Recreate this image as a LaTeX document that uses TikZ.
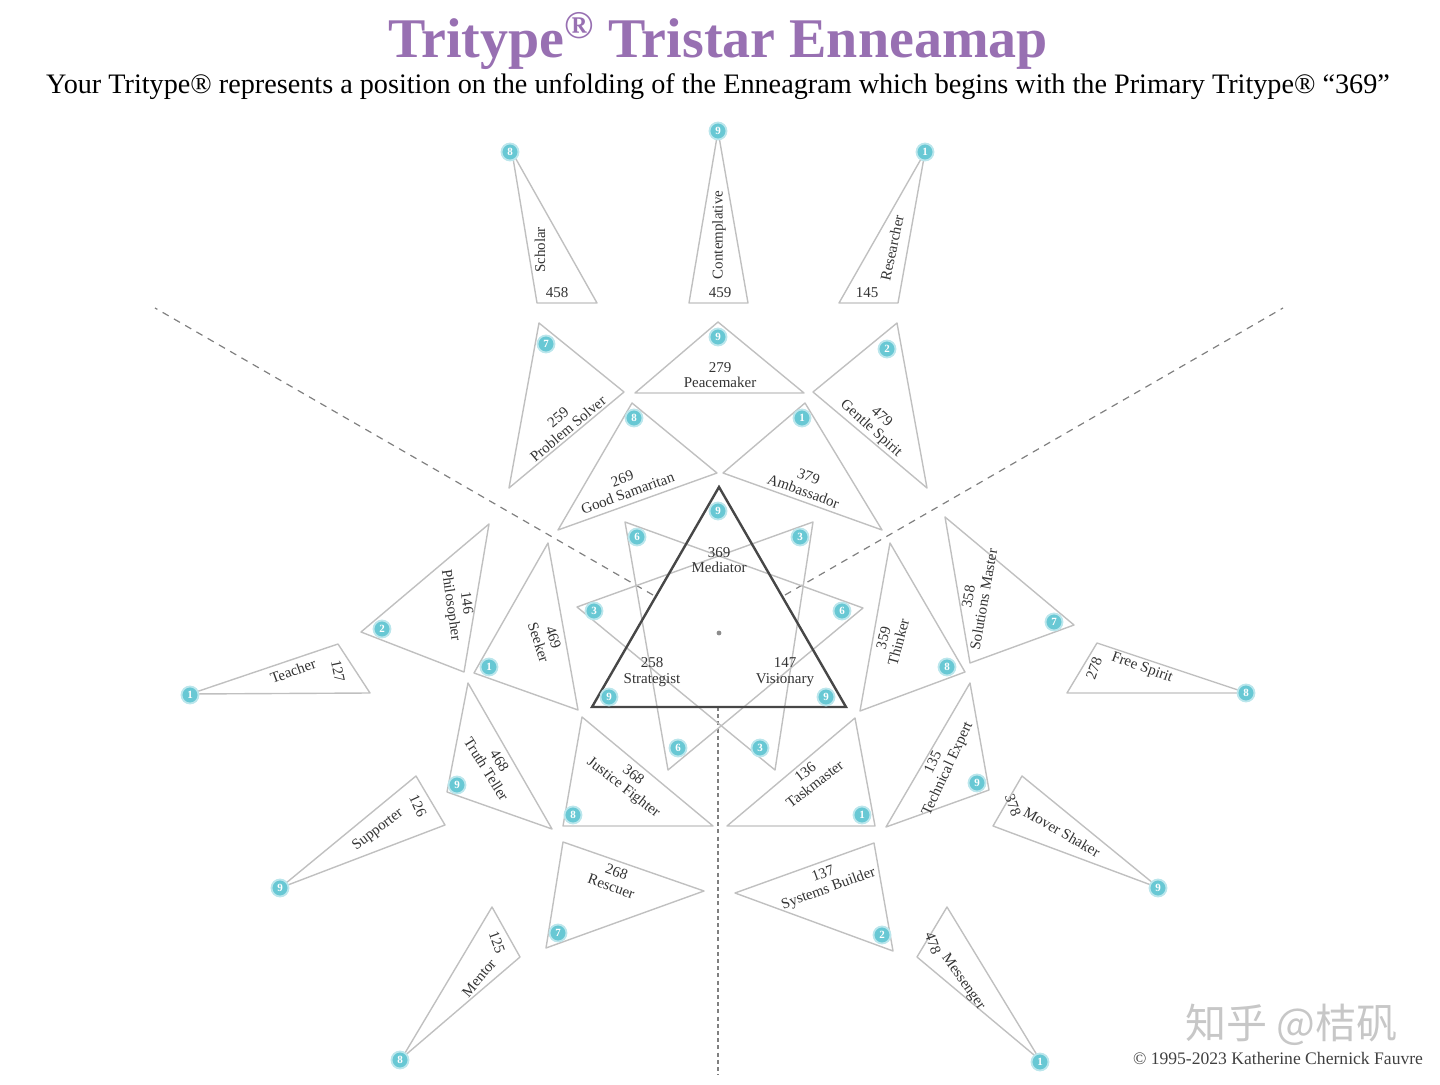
\documentclass[tikz,border=0pt]{standalone}
\usepackage{fontspec}
\setmainfont{Liberation Serif}
\newfontfamily\cjkfont{Noto Sans CJK SC}

\definecolor{enneapurple}{RGB}{152,112,178}
\definecolor{badgecyan}{RGB}{104,200,212}
\definecolor{triline}{RGB}{192,192,192}

\begin{document}
\begin{tikzpicture}[x=0.5pt, y=-0.5pt,
    tri/.style={draw=triline, line width=0.7pt, line join=round},
    core/.style={draw=black!72, line width=1.2pt, line join=miter},
    axis/.style={draw=black!50, line width=0.6pt, dash pattern=on 3.5pt off 3pt},
    badge/.style={circle, fill=badgecyan, draw=badgecyan!45, line width=0.9pt, inner sep=0pt,
                  minimum size=8.5pt, text=white, font=\fontsize{5.5}{5.5}\selectfont\bfseries},
    tname/.style={align=center, inner sep=0pt, text=black!80, font=\fontsize{7.5}{7.8}\selectfont}]
    \useasboundingbox (0,0) rectangle (1440,1085);

    % Heading
    \node [font=\fontsize{28}{30}\selectfont\bfseries, text=enneapurple] (title) at (718,41) {Tritype\textsuperscript{®} Tristar Enneamap};
    \node [font=\fontsize{14.1}{15}\selectfont] (sub) at (718,87) {Your Tritype® represents a position on the unfolding of the Enneagram which begins with the Primary Tritype® “369”};

    % Axes {upper left, upper right, down}
    \coordinate (ctr) at (719,633);
    \coordinate (ul0) at (653,595);  \coordinate (ul1) at (155,308);
    \coordinate (ur0) at (785,595);  \coordinate (ur1) at (1283,308);
    \coordinate (dn0) at (718,707);  \coordinate (dn1) at (718,1075);
    \path [axis] (ul0) -- (ul1);
    \path [axis] (ur0) -- (ur1);
    \path [axis, dash pattern=on 2pt off 1.6pt] (dn0) -- (dn1);

    % Triangles, upper sector
    \draw [tri] (512,152) -- (537,303) -- (597,303) -- cycle;   % 458
    \draw [tri] (718,131) -- (689,303) -- (748,303) -- cycle;   % 459
    \draw [tri] (925,152) -- (839,303) -- (898,303) -- cycle;   % 145
    \draw [tri] (539,323) -- (624,392) -- (509,488) -- cycle;   % 259
    \draw [tri] (718,322) -- (635,393) -- (804,393) -- cycle;   % 279
    \draw [tri] (897,323) -- (813,392) -- (927,488) -- cycle;   % 479
    \draw [tri] (632,403) -- (717,473) -- (558,530) -- cycle;   % 269
    \draw [tri] (805,403) -- (723,473) -- (882,530) -- cycle;   % 379

    % Triangles, lower left sector
    \draw [tri] (190,694) -- (338,644) -- (370,693) -- cycle;   % 127
    \draw [tri] (361,632) -- (489,524) -- (464,672) -- cycle;   % 146
    \draw [tri] (548,543) -- (474,673) -- (578,710) -- cycle;   % 469
    \draw [tri] (468,683) -- (447,792) -- (552,829) -- cycle;   % 468
    \draw [tri] (582,717) -- (563,826) -- (713,826) -- cycle;   % 368
    \draw [tri] (280,888) -- (416,776) -- (445,825) -- cycle;   % 126
    \draw [tri] (563,842) -- (704,891) -- (546,948) -- cycle;   % 268
    \draw [tri] (402,1058) -- (492,907) -- (520,957) -- cycle;  % 125

    % Triangles, lower right sector
    \draw [tri] (945,517) -- (1074,625) -- (970,663) -- cycle;  % 358
    \draw [tri] (890,543) -- (965,672) -- (860,711) -- cycle;   % 359
    \draw [tri] (1097,643) -- (1067,693) -- (1247,693) -- cycle;% 278
    \draw [tri] (970,683) -- (989,790) -- (886,827) -- cycle;   % 135
    \draw [tri] (855,718) -- (875,826) -- (727,826) -- cycle;   % 136
    \draw [tri] (874,843) -- (893,951) -- (735,893) -- cycle;   % 137
    \draw [tri] (1022,776) -- (993,826) -- (1159,888) -- cycle; % 378
    \draw [tri] (947,907) -- (917,957) -- (1040,1060) -- cycle; % 478

    % Centre star {258, 147, 369}
    \draw [tri] (625,522) -- (863,608) -- (668,770) -- cycle;
    \draw [tri] (813,522) -- (577,607) -- (775,770) -- cycle;
    \draw [core] (719,487) -- (846,707) -- (592,707) -- cycle;
    \fill [black!45] (ctr) circle (1.2pt);

    % Badges
    \node [badge] (b458) at (510,152)  {8};
    \node [badge] (b459) at (718,131)  {9};
    \node [badge] (b145) at (925,152)  {1};
    \node [badge] (b259) at (546,344)  {7};
    \node [badge] (b279) at (718,337)  {9};
    \node [badge] (b479) at (887,349)  {2};
    \node [badge] (b269) at (634,418)  {8};
    \node [badge] (b379) at (802,418)  {1};
    \node [badge] (b127) at (190,695)  {1};
    \node [badge] (b146) at (382,629)  {2};
    \node [badge] (b469) at (489,667)  {1};
    \node [badge] (b468) at (457,785)  {9};
    \node [badge] (b368) at (573,815)  {8};
    \node [badge] (b126) at (280,888)  {9};
    \node [badge] (b268) at (558,933)  {7};
    \node [badge] (b125) at (400,1060) {8};
    \node [badge] (b358) at (1054,622) {7};
    \node [badge] (b359) at (947,667)  {8};
    \node [badge] (b278) at (1246,693) {8};
    \node [badge] (b135) at (977,783)  {9};
    \node [badge] (b136) at (862,815)  {1};
    \node [badge] (b137) at (882,935)  {2};
    \node [badge] (b378) at (1158,888) {9};
    \node [badge] (b478) at (1040,1062){1};
    \node [badge] (b369a) at (718,511) {9};
    \node [badge] (b369b) at (609,697) {9};
    \node [badge] (b369c) at (826,697) {9};
    \node [badge] (b258a) at (637,537) {6};
    \node [badge] (b258b) at (842,611) {6};
    \node [badge] (b258c) at (678,748) {6};
    \node [badge] (b147a) at (800,537) {3};
    \node [badge] (b147b) at (594,611) {3};
    \node [badge] (b147c) at (760,748) {3};

    % Names, upper sector
    \node [tname, rotate=90]  (n458) at (540,250) {Scholar};
    \node [tname]             (c458) at (557,293) {458};
    \node [tname, rotate=90]  (n459) at (719,235) {Contemplative};
    \node [tname]             (c459) at (720,293) {459};
    \node [tname, rotate=78]  (n145) at (892,248) {Researcher};
    \node [tname]             (c145) at (867,293) {145};
    \node [tname, rotate=40]  (n259) at (563,423) {259\\Problem Solver};
    \node [tname]             (n279) at (720,375) {279\\Peacemaker};
    \node [tname, rotate=-42] (n479) at (876,423) {479\\Gentle Spirit};
    \node [tname, rotate=20]  (n269) at (625,486) {269\\Good Samaritan};
    \node [tname, rotate=-20] (n379) at (806,484) {379\\Ambassador};

    % Names, centre
    \node [tname] (n369) at (719,560) {369\\Mediator};
    \node [tname] (n258) at (652,672) {258\\Strategist};
    \node [tname] (n147) at (785,672) {147\\Visionary};

    % Names, lower left sector
    \node [tname, rotate=20]  (n127) at (293,671) {Teacher};
    \node [tname, rotate=-78] (c127) at (338,671) {127};
    \node [tname, rotate=-82] (n146) at (458,604) {146\\Philosopher};
    \node [tname, rotate=-72] (n469) at (546,640) {469\\Seeker};
    \node [tname, rotate=-58] (n468) at (493,765) {468\\Truth Teller};
    \node [tname, rotate=-38] (n368) at (628,782) {368\\Justice Fighter};
    \node [tname, rotate=37]  (n126) at (378,830) {Supporter};
    \node [tname, rotate=-65] (c126) at (418,806) {126};
    \node [tname, rotate=-20] (n268) at (614,879) {268\\Rescuer};
    \node [tname, rotate=50]  (n125) at (479,978) {Mentor};
    \node [tname, rotate=-70] (c125) at (497,942) {125};

    % Names, lower right sector
    \node [tname, rotate=80]  (n358) at (976,598)  {358\\Solutions Master};
    \node [tname, rotate=75]  (n359) at (891,640)  {359\\Thinker};
    \node [tname, rotate=-20] (n278) at (1142,668) {Free Spirit};
    \node [tname, rotate=70]  (c278) at (1094,668) {278};
    \node [tname, rotate=65]  (n135) at (941,766)  {135\\Technical Expert};
    \node [tname, rotate=38]  (n136) at (810,778)  {136\\Taskmaster};
    \node [tname, rotate=20]  (n137) at (826,882)  {137\\Systems Builder};
    \node [tname, rotate=-70] (c378) at (1013,805) {378};
    \node [tname, rotate=-30] (n378) at (1062,832) {Mover Shaker};
    \node [tname, rotate=-70] (c478) at (933,943)  {478};
    \node [tname, rotate=-55] (n478) at (963,982)  {Messenger};

    % Footer
    \node [font=\cjkfont\fontsize{20.5}{22}\selectfont, text=black!22] (mark) at (1291,1025) {知乎 @桔矾};
    \node [font=\fontsize{8.8}{10}\selectfont, text=black!75] (copy) at (1278,1058) {© 1995-2023 Katherine Chernick Fauvre};

\end{tikzpicture}
\end{document}
